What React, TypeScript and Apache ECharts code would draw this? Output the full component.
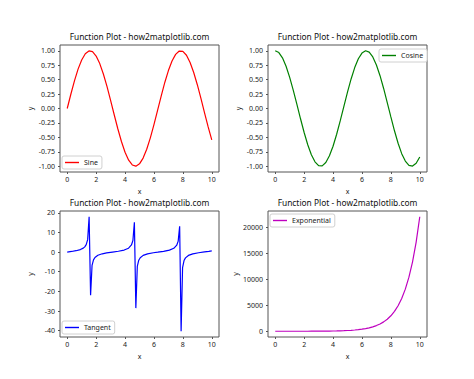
import React, { useEffect, useRef } from "react";
import * as echarts from "echarts";

// x samples (step 0.25) for the trig and exponential curves
const xSamples = [0, 0.25, 0.5, 0.75, 1, 1.25, 1.5, 1.75, 2, 2.25, 2.5, 2.75, 3, 3.25, 3.5, 3.75, 4, 4.25, 4.5, 4.75, 5, 5.25, 5.5, 5.75, 6, 6.25, 6.5, 6.75, 7, 7.25, 7.5, 7.75, 8, 8.25, 8.5, 8.75, 9, 9.25, 9.5, 9.75, 10];
const sineValues = [0, 0.247, 0.479, 0.682, 0.841, 0.949, 0.997, 0.984, 0.909, 0.778, 0.598, 0.382, 0.141, -0.108, -0.351, -0.572, -0.757, -0.895, -0.978, -0.999, -0.959, -0.859, -0.706, -0.508, -0.279, -0.033, 0.215, 0.451, 0.657, 0.823, 0.938, 0.995, 0.989, 0.923, 0.798, 0.624, 0.412, 0.174, -0.075, -0.319, -0.544];
const cosineValues = [1, 0.969, 0.878, 0.732, 0.54, 0.315, 0.071, -0.178, -0.416, -0.628, -0.801, -0.924, -0.99, -0.994, -0.936, -0.82, -0.654, -0.446, -0.211, 0.038, 0.284, 0.512, 0.709, 0.861, 0.96, 0.9995, 0.977, 0.893, 0.754, 0.568, 0.347, 0.103, -0.146, -0.386, -0.602, -0.782, -0.911, -0.985, -0.997, -0.948, -0.839];
const expValues = [1, 1.284, 1.649, 2.117, 2.718, 3.49, 4.48, 5.75, 7.39, 9.49, 12.18, 15.64, 20.09, 25.79, 33.12, 42.52, 54.6, 70.1, 90.0, 115.6, 148.4, 190.6, 244.7, 314.2, 403.4, 518.0, 665.1, 854.1, 1096.6, 1408.1, 1808.0, 2321.6, 2981.0, 3827.6, 4914.8, 6310.7, 8103.1, 10404.6, 13359.7, 17154.2, 22026.5];

// tangent samples, denser around the asymptotes
const tangentX = [0, 0.303, 0.606, 0.909, 1.111, 1.212, 1.313, 1.414, 1.515, 1.616, 1.717, 1.818, 1.919, 2.121, 2.424, 2.727, 3.131, 3.535, 3.939, 4.242, 4.444, 4.545, 4.646, 4.747, 4.848, 4.949, 5.051, 5.253, 5.556, 5.96, 6.263, 6.667, 7.071, 7.374, 7.576, 7.677, 7.778, 7.879, 7.98, 8.081, 8.182, 8.384, 8.687, 9.091, 9.495, 9.798, 10];
const tangentValues = [0, 0.313, 0.696, 1.285, 2.02, 2.65, 3.8, 6.33, 17.97, -22.0, -6.78, -3.96, -2.76, -1.63, -0.87, -0.44, -0.01, 0.416, 1.03, 1.97, 3.63, 5.93, 15.15, -28.5, -7.3, -4.13, -2.85, -1.67, -0.89, -0.335, -0.02, 0.404, 1.01, 1.92, 3.5, 5.59, 13.1, -40.3, -7.9, -4.32, -2.94, -1.7, -0.91, -0.347, 0.07, 0.392, 0.648];

const xTicks = [0, 2, 4, 6, 8, 10];
const trigTicks = [-1, -0.75, -0.5, -0.25, 0, 0.25, 0.5, 0.75, 1];
const tangentTicks = [-40, -30, -20, -10, 0, 10, 20];
const expTicks = [0, 5000, 10000, 15000, 20000];
const panelTitle = "Function Plot - how2matplotlib.com";
const seriesNames = ["Sine", "Cosine", "Tangent", "Exponential"];
const seriesColors = ["#ff0000", "#008000", "#0000ff", "#bf00bf"];

const FONT = "Noto Sans";
const TEXT = "#222";
const FRAME = "#555";

const grids = [
  { left: 60, top: 45, width: 159, height: 127 },
  { left: 268, top: 45, width: 159, height: 127 },
  { left: 60, top: 211, width: 159, height: 126 },
  { left: 268, top: 211, width: 159, height: 126 },
];

const pair = (xs: number[], ys: number[]) => xs.map((x, i) => [x, ys[i]]);

export default function App() {
  const ref = useRef<HTMLDivElement>(null);
  useEffect(() => {
    if (!ref.current) return;
    const chart = echarts.init(ref.current, null, { renderer: "svg" });

    const yRanges = [
      { min: -1.1, max: 1.1, ticks: trigTicks, fmt: (v: number) => v.toFixed(2) },
      { min: -1.1, max: 1.1, ticks: trigTicks, fmt: (v: number) => v.toFixed(2) },
      { min: -43.2, max: 20.9, ticks: tangentTicks, fmt: (v: number) => String(v) },
      { min: -1100, max: 23127, ticks: expTicks, fmt: (v: number) => String(v) },
    ];

    const data = [
      pair(xSamples, sineValues),
      pair(xSamples, cosineValues),
      pair(tangentX, tangentValues),
      pair(xSamples, expValues),
    ];

    const legendPos = [
      { left: 62, top: 156 },
      { left: 379, top: 49 },
      { left: 62, top: 321 },
      { left: 270, top: 214 },
    ];

    chart.setOption({
      animation: false,
      backgroundColor: "#ffffff",
      textStyle: { fontFamily: FONT },
      title: grids.map((g) => ({
        text: panelTitle,
        left: g.left + g.width / 2,
        top: g.top - 13,
        textAlign: "center",
        padding: 0,
        textStyle: { fontSize: 8.4, fontWeight: "normal", color: "#111", fontFamily: FONT },
      })),
      grid: grids.map((g) => ({
        ...g,
        show: true,
        borderColor: FRAME,
        borderWidth: 1,
        backgroundColor: "#fff",
        containLabel: false,
      })),
      legend: seriesNames.map((name, i) => ({
        data: [{ name, icon: "rect" }],
        ...legendPos[i],
        orient: "vertical",
        backgroundColor: "#fff",
        borderColor: "#d0d0d0",
        borderWidth: 1,
        borderRadius: 2,
        padding: [3, 4, 3, 3],
        itemWidth: 14,
        itemHeight: 1.4,
        itemGap: 4,
        textStyle: { fontSize: 7, color: TEXT, fontFamily: FONT },
      })),
      xAxis: grids.map((_, i) => ({
        type: "value",
        gridIndex: i,
        min: -0.5,
        max: 10.5,
        position: "bottom",
        name: "x",
        nameLocation: "middle",
        nameGap: 16,
        nameTextStyle: { fontSize: 7, color: TEXT },
        splitLine: { show: false },
        axisLine: { show: false, onZero: false },
        axisTick: { show: true, length: 2, lineStyle: { color: FRAME }, customValues: xTicks },
        axisLabel: { fontSize: 7, color: TEXT, margin: 4, customValues: xTicks },
      })),
      yAxis: yRanges.map((r, i) => ({
        type: "value",
        gridIndex: i,
        min: r.min,
        max: r.max,
        position: "left",
        name: "y",
        nameLocation: "middle",
        nameGap: 26,
        nameTextStyle: { fontSize: 7, color: TEXT },
        splitLine: { show: false },
        axisLine: { show: false, onZero: false },
        axisTick: { show: true, length: 2, lineStyle: { color: FRAME }, customValues: r.ticks },
        axisLabel: { fontSize: 7, color: TEXT, margin: 5, customValues: r.ticks, formatter: r.fmt },
      })),
      series: seriesNames.map((name, i) => ({
        name,
        type: "line",
        xAxisIndex: i,
        yAxisIndex: i,
        data: data[i],
        symbol: "none",
        showSymbol: false,
        smooth: false,
        lineStyle: { color: seriesColors[i], width: 1.2 },
        itemStyle: { color: seriesColors[i] },
      })),
    });
    return () => chart.dispose();
  }, []);

  return (
    <div
      ref={ref}
      style={{ position: "fixed", left: 0, top: 0, width: 474, height: 379 }}
    />
  );
}
